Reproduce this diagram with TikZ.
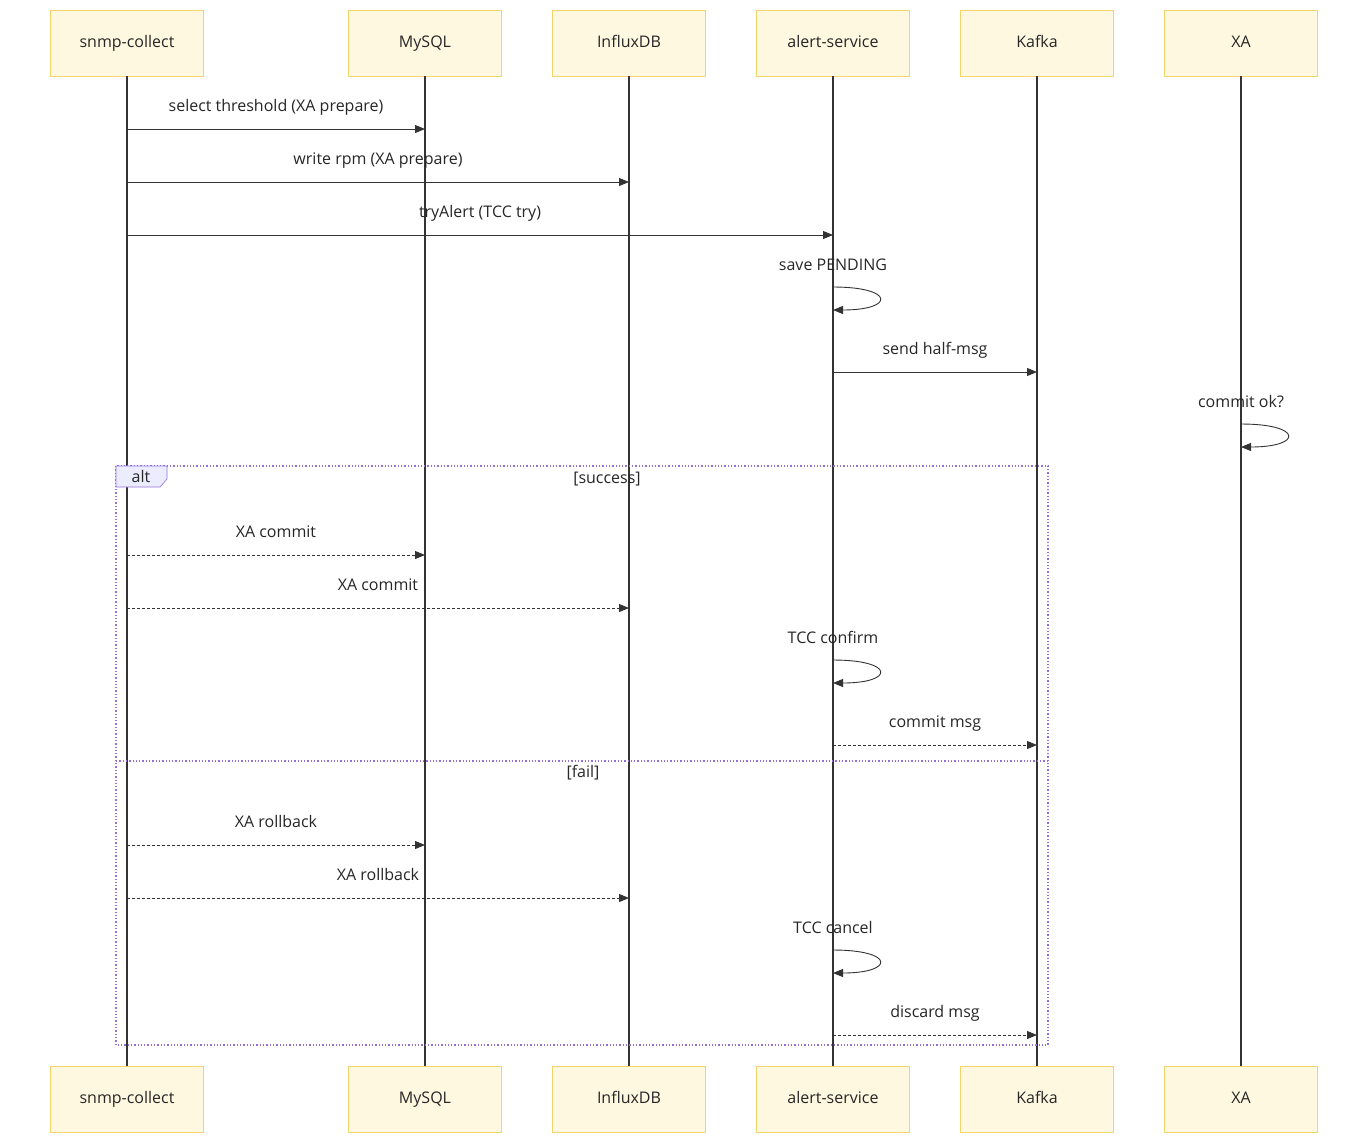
\documentclass[tikz,border=0pt]{standalone}
\usepackage{fontspec}
\setmainfont{Open Sans}
\usetikzlibrary{arrows.meta,calc}
\definecolor{boxf}{HTML}{FFF8E1}
\definecolor{boxd}{HTML}{F2D46B}
\definecolor{line}{HTML}{333333}
\definecolor{altc}{HTML}{9370DB}
\definecolor{altf}{HTML}{ECECFF}
\begin{document}
\begin{tikzpicture}[x=1pt,y=-1pt,
  actor/.style={draw=boxd,fill=boxf,minimum width=153pt,minimum height=66pt,inner sep=0,font=\fontsize{16}{18}\selectfont,text=black!85,text height=11pt,text depth=3pt},
  life/.style={line,line width=1.6pt},
  msg/.style={draw=line,line width=0.9pt,-{Triangle[length=10pt,width=8pt]}},
  dmsg/.style={msg,dash pattern=on 3pt off 2pt},
  lab/.style={font=\fontsize{16}{18}\selectfont,text=black!85,text height=11pt,text depth=3pt}]
\useasboundingbox (0,0) rectangle (1370,1144);
\foreach \n/\x/\t in {1/127/snmp-collect,2/425/MySQL,3/629/InfluxDB,4/833/alert-service,5/1037/Kafka,6/1241/XA}{
  \node[actor] (t\n) at (\x,43) {\t};
  \node[actor] (b\n) at (\x,1099) {\t};
  \draw[life] (t\n) -- (b\n);
}
% alt frame
\draw[altc,dotted,line width=1.3pt] (116,466) rectangle (1048,1045);
\draw[altc,dotted,line width=1.3pt] (116,761) -- (1048,761);
\filldraw[draw=altc,fill=altf,line width=0.6pt] (116,466) -- (167,466) -- (167,479) -- (160,487) -- (116,487) -- cycle;
\node[lab] (altlab) at (141,478) {alt};
\node[lab] (succ) at (607,479) {[success]};
\node[lab] (fail) at (583,773) {[fail]};
% messages
\newcommand\mymsg[5]{\draw[#1] (t#2 |- 0,#4) -- (t#3 |- 0,#4);
  \node[lab] at ($(t#2 |- 0,#4)!0.5!(t#3 |- 0,#4)+(0,-22)$) {#5};}
\newcommand\myself[3]{\draw[msg] (t#1 |- 0,#2) .. controls ($(t#1 |- 0,#2)+(62,0)$) and ($(t#1 |- 0,#2)+(62,23)$) .. ($(t#1 |- 0,#2)+(0,23)$);
  \node[lab] at ($(t#1 |- 0,#2)+(0,-21)$) {#3};}
\mymsg{msg}{1}{2}{129}{select threshold (XA prepare)}
\mymsg{msg}{1}{3}{182}{write rpm (XA prepare)}
\mymsg{msg}{1}{4}{235}{tryAlert (TCC try)}
\myself{4}{287}{save PENDING}
\mymsg{msg}{4}{5}{372}{send half-msg}
\myself{6}{424}{commit ok?}
\mymsg{dmsg}{1}{2}{555}{XA commit}
\mymsg{dmsg}{1}{3}{608}{XA commit}
\myself{4}{660}{TCC confirm}
\mymsg{dmsg}{4}{5}{745}{commit msg}
\mymsg{dmsg}{1}{2}{845}{XA rollback}
\mymsg{dmsg}{1}{3}{898}{XA rollback}
\myself{4}{950}{TCC cancel}
\mymsg{dmsg}{4}{5}{1035}{discard msg}
\end{tikzpicture}
\end{document}
